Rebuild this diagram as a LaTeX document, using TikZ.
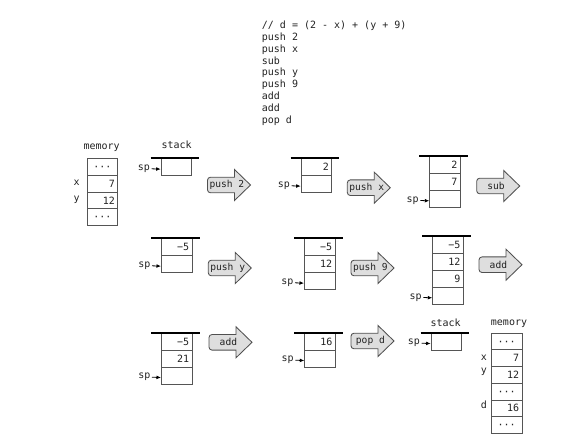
\documentclass[tikz,border=0pt]{standalone}
\usepackage{fontspec}
\setmonofont{DejaVu Sans Mono}
\usetikzlibrary{arrows.meta}
\definecolor{cellgray}{HTML}{555555}
\definecolor{arrowfill}{HTML}{DEDEDE}
\definecolor{arrowline}{HTML}{505050}
\definecolor{inkgray}{HTML}{222222}
\newcommand\mkstack[5]{%
  \foreach \v [count=\i] in {#5} {
    \node[cell] (#1-\i) at (#2,{#3+(\i-1)*17}) {\v};
  }
  \draw[stackbar] ({#2-10},#3) -- ({#2+38.5},#3);
  \node[sptext] (#1-sp) at ({#2-10.5},{#3+(#4-1)*17+10.5}) {sp};
  \draw[sparrow] ([xshift=1.5pt]#1-sp.east) -- ([yshift=-2pt]#1-#4.west);
}
\newcommand\fatarr[4]{%
  \draw[fatstyle] ({#2+43},#3) -- ({#2+27},{#3-15.5}) -- ({#2+27},{#3-7.8})
    [rounded corners=3pt] -- (#2,{#3-7.8}) -- (#2,{#3+7.8}) [sharp corners] -- ({#2+27},{#3+7.8})
    -- ({#2+27},{#3+15.5}) -- cycle;
  \node[arrowtext] (#1) at ({#2+19.4},#3) {#4};
}
\begin{document}
\begin{tikzpicture}[x=1pt,y=-1pt,
  every node/.style={font=\ttfamily\fontsize{10}{12}\selectfont, inner sep=0pt, text=inkgray},
  cell/.style={draw=cellgray, line width=0.7pt, minimum width=30.5pt, minimum height=17pt,
    text width=25pt, align=right, anchor=north west, text height=7.3pt, text depth=0pt},
  memcell/.style={cell, minimum height=16.7pt},
  dotcell/.style={memcell, align=center},
  stackbar/.style={draw=black, line width=2pt},
  sptext/.style={anchor=east},
  sparrow/.style={draw=black, line width=0.8pt, -{Latex[length=4.5pt,width=3.8pt]}},
  fatstyle/.style={draw=arrowline, fill=arrowfill, line width=0.85pt, line join=miter},
  arrowtext/.style={font=\ttfamily\fontsize{9.6}{11}\selectfont},
  codeline/.style={anchor=base west},
  lbl/.style={}
]
\useasboundingbox (0,0) rectangle (581,441);
% code
\foreach \t [count=\i] in {{// d = (2 - x) + (y + 9)},{push 2},{push x},{sub},{push y},{push 9},{add},{add},{pop d}} {
  \node[codeline] (code\i) at (261.7,{28.5+(\i-1)*11.875}) {\t};
}
% memory left
\node[lbl] (memL) at (101.7,148) {memory};
\node[dotcell] (mL1) at (86.7,158.3) {···};
\node[memcell] (mL2) at (86.7,175) {7};
\node[memcell] (mL3) at (86.7,191.7) {12};
\node[dotcell] (mL4) at (86.7,208.4) {···};
\node[lbl] (mLx) at (76.7,183) {x};
\node[lbl] (mLy) at (76.7,199.5) {y};
% stacks
\node[lbl] (stk1) at (176.7,145) {stack};
\mkstack{s1}{160.7}{158.3}{1}{{}}
\mkstack{s2}{300.7}{158.3}{2}{2,{}}
\mkstack{s3}{429.3}{156}{3}{2,7,{}}
\mkstack{s4}{161}{238.3}{2}{−5,{}}
\mkstack{s5}{304}{238.3}{3}{−5,12,{}}
\mkstack{s6}{432.3}{236}{4}{−5,12,9,{}}
\mkstack{s7}{161}{332.7}{3}{−5,21,{}}
\mkstack{s8}{304.3}{332.7}{2}{16,{}}
\mkstack{s9}{430.7}{332.7}{1}{{}}
\node[lbl] (stk2) at (445.7,322.7) {stack};
% arrows
\fatarr{a1}{207.5}{185}{push 2}
\fatarr{a2}{347.3}{187.7}{push x}
\fatarr{a3}{476.7}{186}{sub}
\fatarr{a4}{208.3}{268}{push y}
\fatarr{a5}{351}{268}{push 9}
\fatarr{a6}{479}{264.7}{add}
\fatarr{a7}{209}{342.3}{add}
\fatarr{a8}{351}{341}{pop d}
% memory right
\node[lbl] (memR) at (509,323.3) {memory};
\node[dotcell] (mR1) at (491,332.7) {···};
\node[memcell] (mR2) at (491,349.4) {7};
\node[memcell] (mR3) at (491,366.1) {12};
\node[dotcell] (mR4) at (491,382.8) {···};
\node[memcell] (mR5) at (491,399.5) {16};
\node[dotcell] (mR6) at (491,416.2) {···};
\node[lbl] (mRx) at (484,357.3) {x};
\node[lbl] (mRy) at (484,372) {y};
\node[lbl] (mRd) at (484,405) {d};
\end{tikzpicture}
\end{document}
